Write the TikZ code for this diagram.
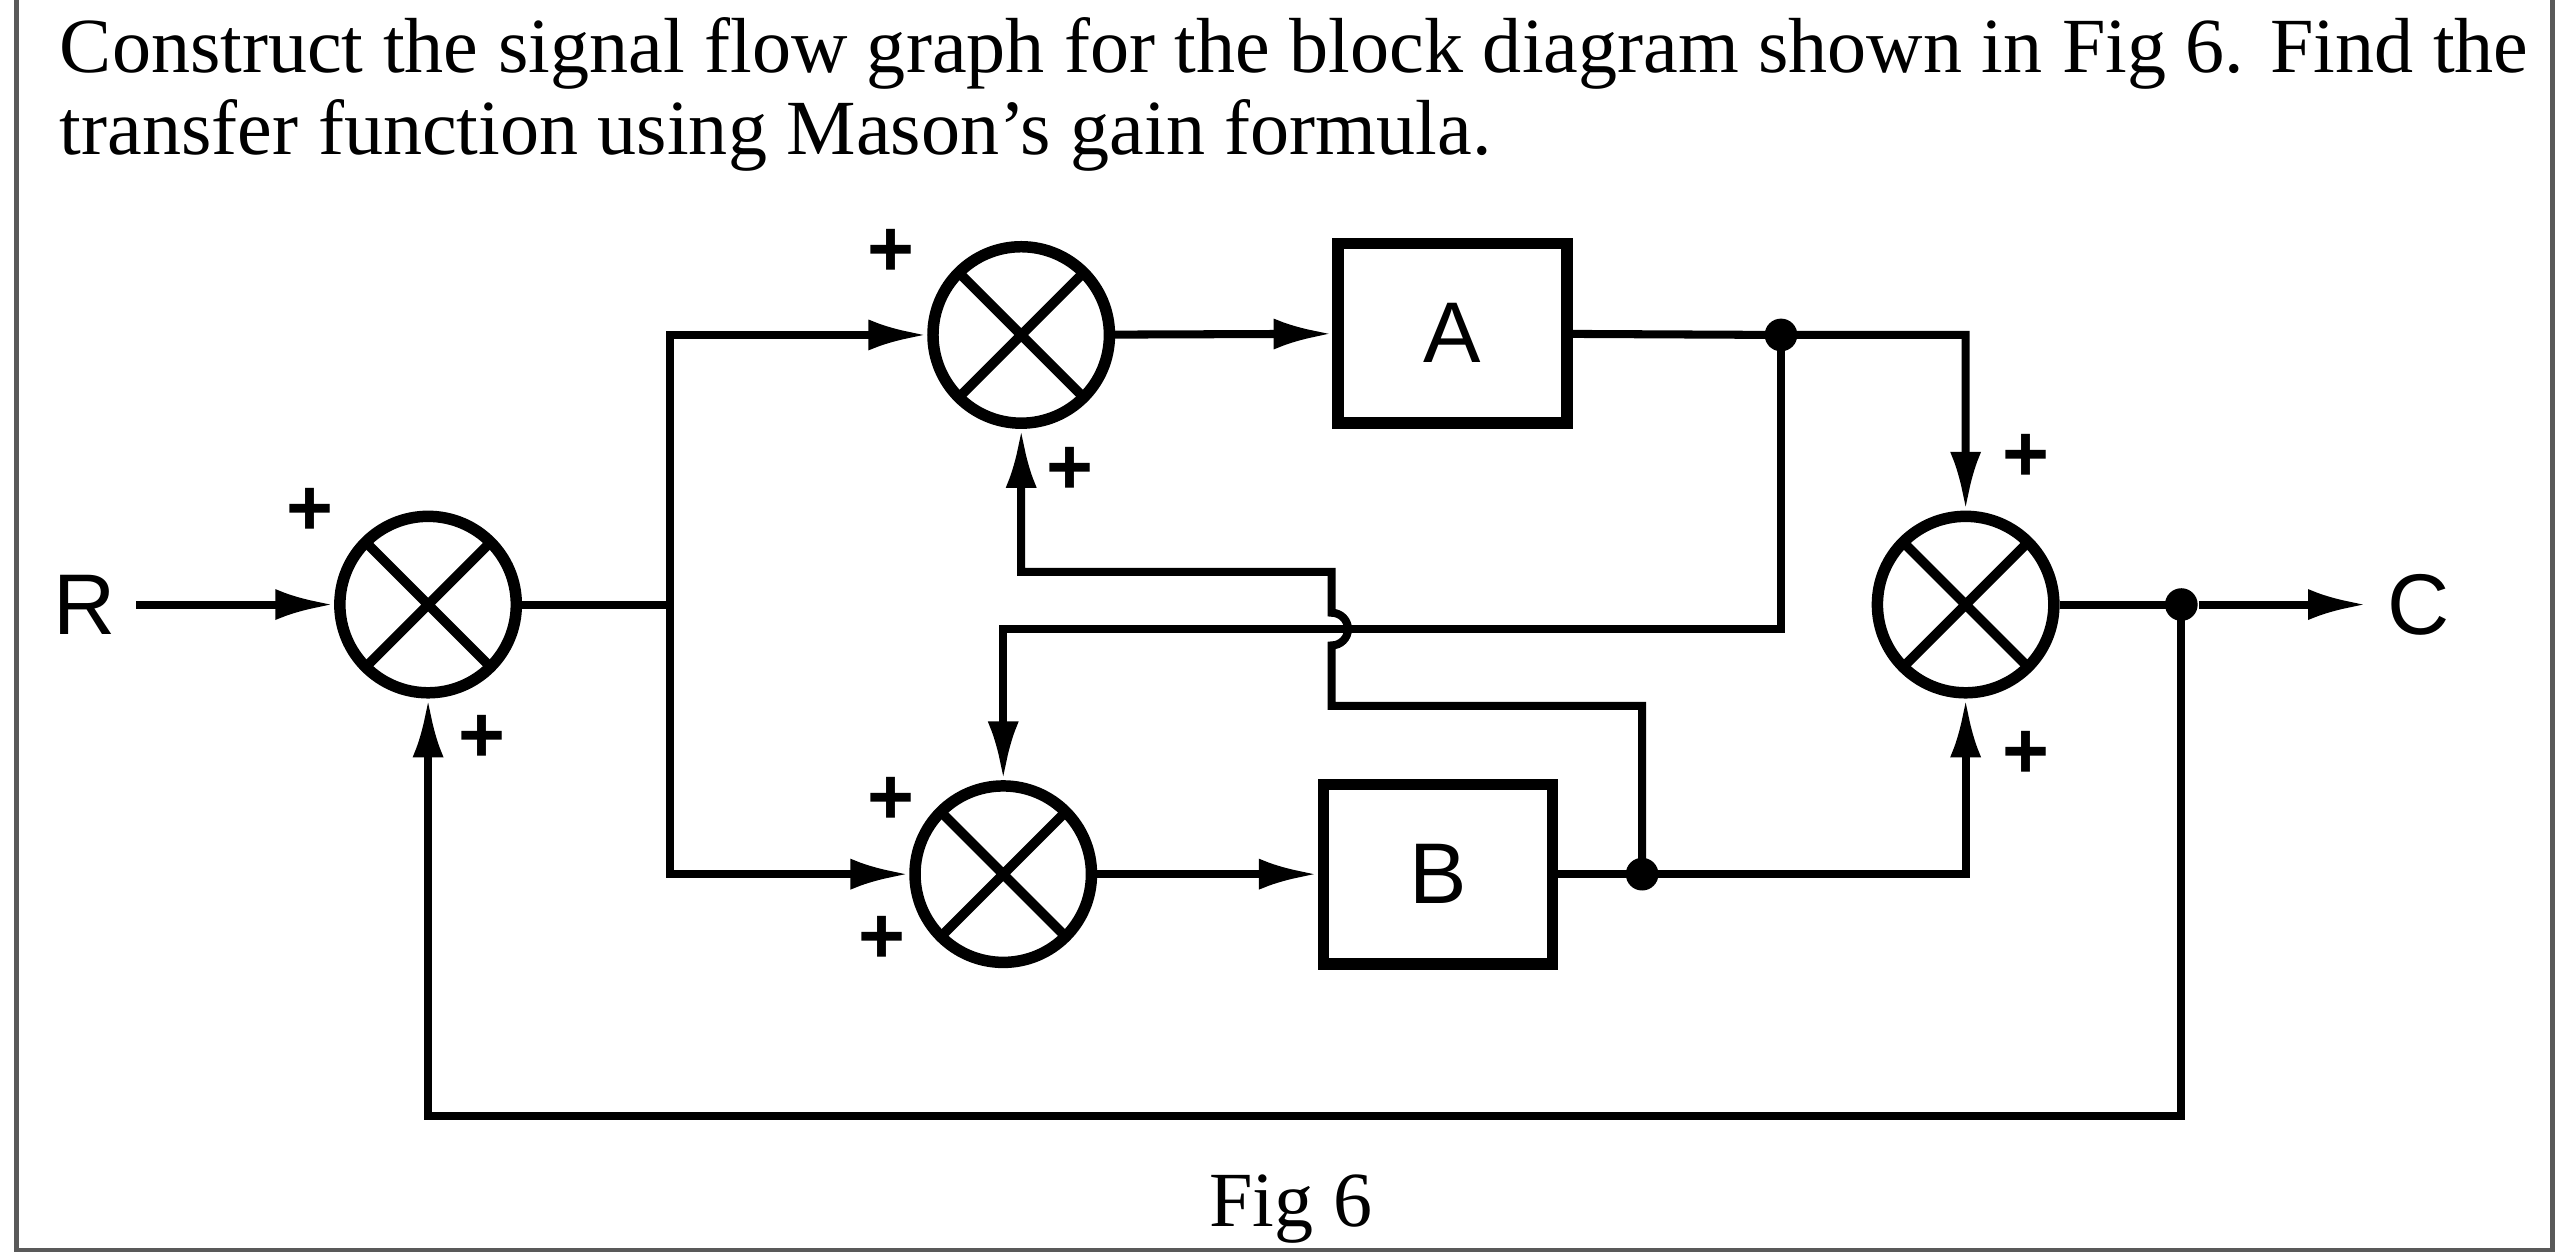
\documentclass[tikz,border=0pt]{standalone}
\usepackage{fontspec}
\setmainfont{Liberation Serif}
\setsansfont{Liberation Sans}
\usetikzlibrary{arrows.meta}
\tikzset{
  sum/.style={draw, circle, line width=2pt, minimum size=1.08cm, inner sep=0pt,
    path picture={\draw[line width=1.7pt] (path picture bounding box.north west) -- (path picture bounding box.south east)
      (path picture bounding box.north east) -- (path picture bounding box.south west);}},
  block/.style={draw, line width=2pt, minimum width=1.4cm, minimum height=1.1cm, font=\sffamily\fontsize{15}{15}\selectfont},
  wire/.style={line width=1.4pt},
  arr/.style={wire, -{Latex[length=3.6mm, width=1.9mm]}},
  dot/.style={circle, fill, inner sep=0pt, minimum size=2mm},
  sgn/.style={font=\sffamily\bfseries\fontsize{14}{14}\selectfont, inner sep=0pt}
}
\begin{document}
\begin{tikzpicture}
        \useasboundingbox (0,0) rectangle (15.68,-7.68);
        \draw[gray!70!black, line width=0.8pt] (0.1,0.05) -- (0.1,-7.65) -- (15.62,-7.65) -- (15.62,0.05);
        \node[anchor=north west, align=left, inner sep=0pt, font=\fontsize{13.6}{14.3}\selectfont] at (0.36,-0.10) (q)
          {Construct the signal flow graph for the block diagram shown in Fig 6. Find the\\ transfer function using Mason's gain formula.};

        \node[sum] at ( 2.62,-3.70) (s1) {};
        \node[sum] at ( 6.25,-2.05) (s2) {};
        \node[sum] at ( 6.14,-5.35) (s3) {};
        \node[sum] at (12.03,-3.70) (s4) {};
        \node[block] at (8.89,-2.04) (A) {A};
        \node[block] at (8.80,-5.35) (B) {B};
        \node[font=\sffamily\fontsize{15}{15}\selectfont] at (0.52,-3.70) (R) {R};
        \node[font=\sffamily\fontsize{15}{15}\selectfont] at (14.80,-3.70) (C) {C};
        \node[dot] at (10.90,-2.05) (dA) {};
        \node[dot] at (10.05,-5.35) (dB) {};
        \node[dot] at (13.35,-3.70) (dC) {};
        \coordinate (j1) at (4.10,-3.70);
        \coordinate (t1) at (10.90,-3.85);
        \coordinate (t2) at (10.05,-4.32);
        \coordinate (t3) at (8.15,-4.32);
        \coordinate (t4) at (8.15,-3.50);
        \coordinate (fb) at (13.35,-6.83);

        \draw[arr] (R) -- (s1);
        \draw[wire] (s1) -- (j1);
        \draw[arr] (j1) |- (s2);
        \draw[arr] (j1) |- (s3);
        \draw[arr] (s2) -- (A);
        \draw[arr] (s3) -- (B);
        \draw[arr] (A) -- (dA.center) -| (s4);
        \draw[arr] (B) -- (dB.center) -| (s4);
        \draw[wire] (s4) -- (dC.center);
        \draw[arr] (dC) -- (C);
        \draw[arr] (dC.center) -- (fb) -| (s1);
        \draw[arr] (dA.center) -- (t1) -| (s3);
        \draw[arr] (dB.center) -- (t2) -- (t3) -- ++(0,0.37) arc[start angle=-90, end angle=90, radius=0.1] -- (t4) -| (s2);

        \node[sgn] at ( 1.90,-3.13) {+};
        \node[sgn] at ( 2.95,-4.52) {+};
        \node[sgn] at ( 5.45,-1.55) {+};
        \node[sgn] at ( 6.55,-2.88) {+};
        \node[sgn] at ( 5.45,-4.90) {+};
        \node[sgn] at ( 5.40,-5.75) {+};
        \node[sgn] at (12.40,-2.80) {+};
        \node[sgn] at (12.40,-4.62) {+};

        \node at (7.90,-7.40) (fig) {\fontsize{13.6}{14}\selectfont Fig 6};
      \end{tikzpicture}
\end{document}
